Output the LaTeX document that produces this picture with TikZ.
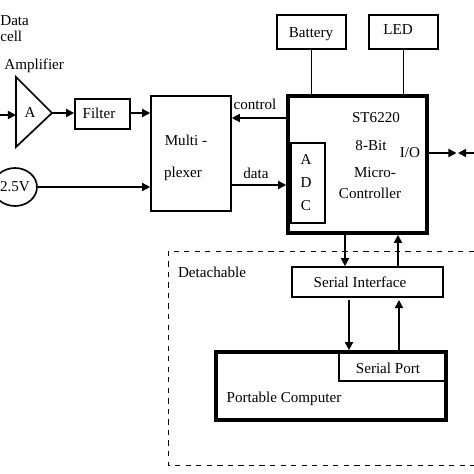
\documentclass[tikz,border=0pt]{standalone}
\usepackage{fontspec}
\setmainfont{Liberation Serif}
\usetikzlibrary{arrows.meta,shapes.geometric}
\tikzset{
  block/.style={draw,line width=0.95pt,inner sep=0pt},
  heavyblock/.style={draw,line width=2.1pt,inner sep=0pt},
  lbl/.style={inner sep=0pt,font=\fontsize{8.6}{10}\selectfont},
  wire/.style={line width=0.9pt}
}
\begin{document}
\begin{tikzpicture}[>={Stealth[inset=0pt,length=4.6pt,width=4.6pt]},x=0.02cm,y=-0.02cm]
    \useasboundingbox (0,0) rectangle (474,474);
    \clip (0,0) rectangle (474,474);
    % input side
    \node[lbl,anchor=west] (datalbl) at (0,21) {Data};
    \node[lbl,anchor=west] (celllbl) at (0,36) {cell};
    \node[lbl,anchor=west] (amplbl) at (4,66) {Amplifier};
    \coordinate (ampin) at (16,113);
    \coordinate (ampout) at (52,113);
    \coordinate (sigin) at (0,115);
    \draw[line width=0.95pt] (16,77) -- (ampout) -- (16,147) -- cycle;
    \node[lbl] (amptxt) at (30,113) {A};
    \node[block,minimum width=1.1cm,minimum height=0.6cm] (filter) at (102.5,114) {};
    \node[lbl] (filterlbl) at (99,113) {Filter};
    \node[block,minimum width=1.6cm,minimum height=2.3cm] (mux) at (191,153.5) {};
    \node[lbl] (muxa) at (186,140) {Multi -};
    \node[lbl] (muxb) at (183,174) {plexer};
    \node[draw,ellipse,line width=0.95pt,inner sep=0pt,minimum width=0.88cm,minimum height=0.76cm,font=\fontsize{8.6}{10}\selectfont] (ref) at (15,187) {2.5V};
    % controller
    \node[heavyblock,minimum width=2.78cm,minimum height=2.74cm] (mcu) at (357.5,164.5) {};
    \node[block,line width=0.8pt,minimum width=0.68cm,minimum height=1.6cm] (adc) at (308,183) {};
    \node[lbl] (adca) at (306,160) {A};
    \node[lbl] (adcd) at (306,183) {D};
    \node[lbl] (adcc) at (306,206) {C};
    \node[lbl] (mcua) at (376,118) {ST6220};
    \node[lbl] (mcub) at (371,146) {8-Bit};
    \node[lbl] (mcuc) at (375,173) {Micro-};
    \node[lbl] (mcud) at (370,193) {Controller};
    \node[lbl] (iolbl) at (410,153) {I/O};
    \node[block,minimum width=1.38cm,minimum height=0.68cm] (battery) at (311.5,32) {};
    \node[lbl] (batterylbl) at (311,34) {Battery};
    \node[block,minimum width=1.38cm,minimum height=0.68cm] (led) at (403.5,32) {};
    \node[lbl] (ledlbl) at (398,30) {LED};
    \node[lbl] (ctrllbl) at (255,104) {control};
    \node[lbl] (datalbl2) at (256,173) {data};
    % detachable part
    \coordinate (dashtr) at (474,251);
    \coordinate (dashbr) at (474,465);
    \draw[line width=0.55pt,dash pattern=on 3pt off 3pt] (dashtr) -- (168,251) -- (168,465) -- (dashbr);
    \node[lbl] (detach) at (212,272) {Detachable};
    \node[block,minimum width=3.02cm,minimum height=0.6cm] (serial) at (367.5,282) {};
    \node[lbl] (seriallbl) at (360,282) {Serial Interface};
    \node[heavyblock,minimum width=4.6cm,minimum height=1.36cm] (pc) at (331,386) {};
    \node[lbl] (pclbl) at (284,399) {Portable Computer};
    \node[block,line width=0.8pt,minimum width=2.14cm,minimum height=0.58cm] (port) at (392.5,366.5) {};
    \node[lbl] (portlbl) at (388,368) {Serial Port};
    % connectors
    \coordinate (ctrlx) at (0,118);
    \coordinate (datax) at (0,185);
    \coordinate (downa) at (345,0);
    \coordinate (upa) at (398,0);
    \coordinate (downb) at (349,300);
    \coordinate (upb) at (399,300);
    \coordinate (iomeet) at (456.5,153);
    \coordinate (iomeetb) at (458,153);
    \coordinate (ioend) at (474,153);
    \draw[wire,->] (sigin) -- (ampin |- sigin);
    \draw[wire,->] (ampout) -- (filter.west |- ampout);
    \draw[wire,->] (filter.east |- ampout) -- (mux.west |- ampout);
    \draw[wire,->] (ref.east) -- (mux.west |- ref.east);
    \draw[wire,->] (mcu.west |- ctrlx) -- (mux.east |- ctrlx);
    \draw[wire,->] (mux.east |- datax) -- (mcu.west |- datax);
    \draw[wire] (battery.south) -- (mcu.north -| battery.south);
    \draw[wire] (led.south) -- (mcu.north -| led.south);
    \draw[wire,->] (mcu.east |- iomeet) -- (iomeet);
    \draw[wire,->] (ioend) -- (iomeetb);
    \draw[wire,->] (mcu.south -| downa) -- (serial.north -| downa);
    \draw[wire,->] (serial.north -| upa) -- (mcu.south -| upa);
    \draw[wire,->] (downb) -- (pc.north -| downb);
    \draw[wire,->] (pc.north -| upb) -- (upb);
\end{tikzpicture}
\end{document}
